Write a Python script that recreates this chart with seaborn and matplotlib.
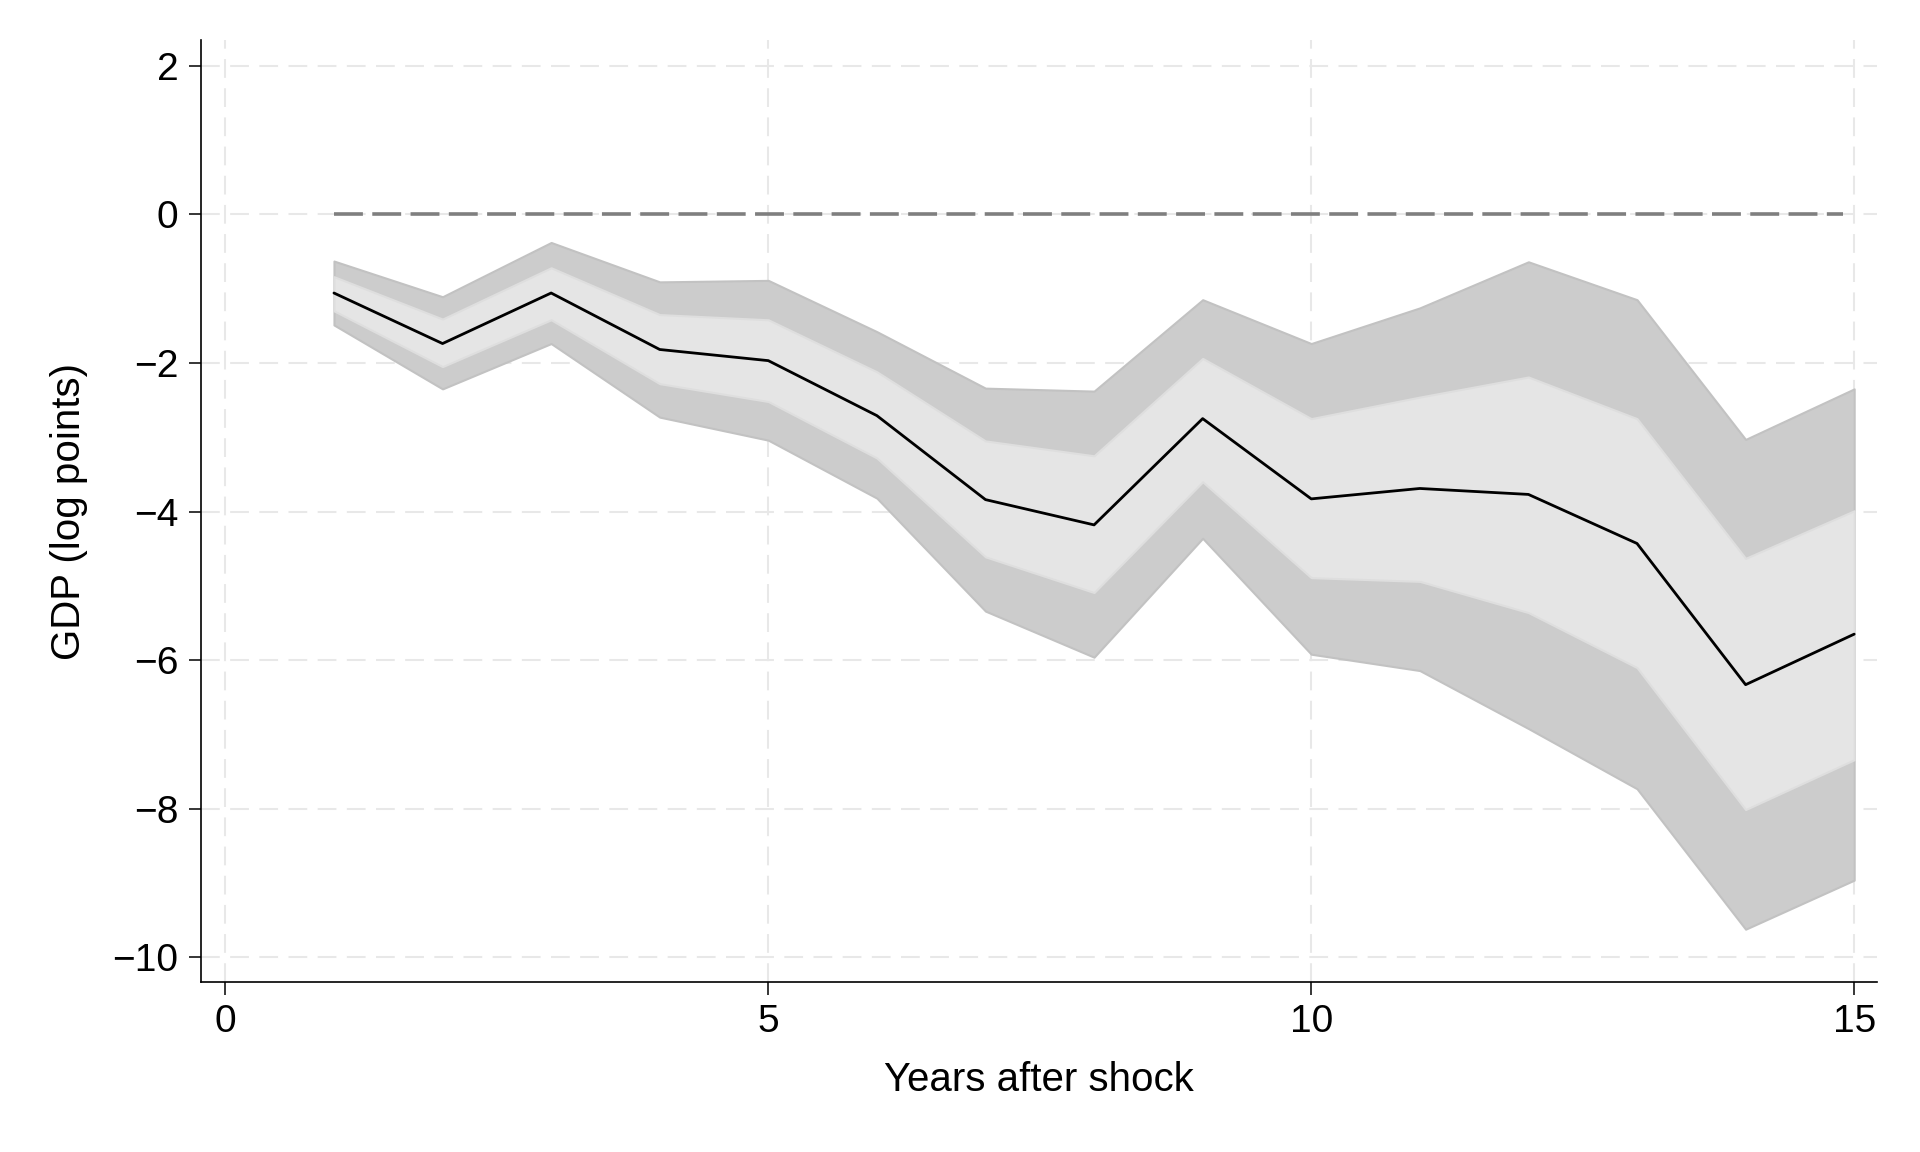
import numpy as np
import pandas as pd
import matplotlib
matplotlib.use("Agg")
import matplotlib.pyplot as plt
import seaborn as sns

# impulse response of GDP
years = [1, 2, 3, 4, 5, 6, 7, 8, 9, 10, 11, 12, 13, 14, 15]
irf = [-1.06, -1.74, -1.06, -1.82, -1.97, -2.71, -3.84, -4.18, -2.75, -3.83, -3.69, -3.77, -4.43, -6.33, -5.65]
# inner band (lighter)
inner_hi = [-0.84, -1.41, -0.72, -1.35, -1.42, -2.12, -3.05, -3.25, -1.94, -2.75, -2.46, -2.19, -2.75, -4.63, -3.99]
inner_lo = [-1.30, -2.05, -1.42, -2.28, -2.52, -3.28, -4.61, -5.09, -3.60, -4.89, -4.94, -5.36, -6.10, -8.01, -7.34]
# outer band (darker)
outer_hi = [-0.63, -1.11, -0.38, -0.91, -0.89, -1.58, -2.34, -2.38, -1.15, -1.74, -1.26, -0.64, -1.15, -3.03, -2.35]
outer_lo = [-1.49, -2.35, -1.74, -2.73, -3.04, -3.82, -5.34, -5.96, -4.36, -5.92, -6.14, -6.92, -7.73, -9.62, -8.96]

x_ticks = [0, 5, 10, 15]
y_ticks = [-10, -8, -6, -4, -2, 0, 2]

df = pd.DataFrame({"year": years, "irf": irf})

sns.set_style("white")
plt.rcParams['font.family'] = ['Liberation Sans', 'DejaVu Sans']
plt.rcParams['text.color'] = 'black'
plt.rcParams['axes.labelcolor'] = 'black'
plt.rcParams['xtick.color'] = 'black'
plt.rcParams['ytick.color'] = 'black'

fig = plt.figure(figsize=(19.2, 11.52), dpi=100)
ax = fig.add_axes([0.1046, 0.1476, 0.873, 0.8174])

# dashed light grid
for xv in x_ticks:
    ax.axvline(xv, color='#e8e8e8', lw=1.5, ls=(0, (9, 5)), zorder=0)
for yv in y_ticks:
    ax.axhline(yv, color='#e8e8e8', lw=1.5, ls=(0, (9, 5)), zorder=0)

# confidence bands
ax.fill_between(years, outer_lo, outer_hi, facecolor='#cccccc', edgecolor='#c2c2c2', lw=1.5, zorder=1)
ax.fill_between(years, inner_lo, inner_hi, facecolor='#e5e5e5', edgecolor='#dedede', lw=1.5, zorder=2)

# zero reference line
ax.plot([years[0], years[-1] - 0.1], [0, 0], color='#7f7f7f', lw=2.6, ls=(0, (8, 2.6)), zorder=3)

sns.lineplot(data=df, x="year", y="irf", color='black', lw=2.0, ax=ax, zorder=4)

ax.set_xlim(-0.226, 15.21)
ax.set_ylim(-10.33, 2.34)
ax.set_xticks(x_ticks)
ax.set_yticks(y_ticks)
ax.set_yticklabels([str(v).replace('-', '\u2212') for v in y_ticks])

for s in ['top', 'right']:
    ax.spines[s].set_visible(False)
for s in ['left', 'bottom']:
    ax.spines[s].set_color('black')
    ax.spines[s].set_linewidth(1.2)

ax.tick_params(axis='both', direction='out', length=9, width=1.1, color='black',
               labelsize=28, pad=7, left=True, bottom=True)

ax.set_xlabel("Years after shock", fontsize=29, labelpad=15)
ax.set_ylabel("GDP (log points)", fontsize=29, labelpad=18)

fig.savefig("out.png", dpi=100)
